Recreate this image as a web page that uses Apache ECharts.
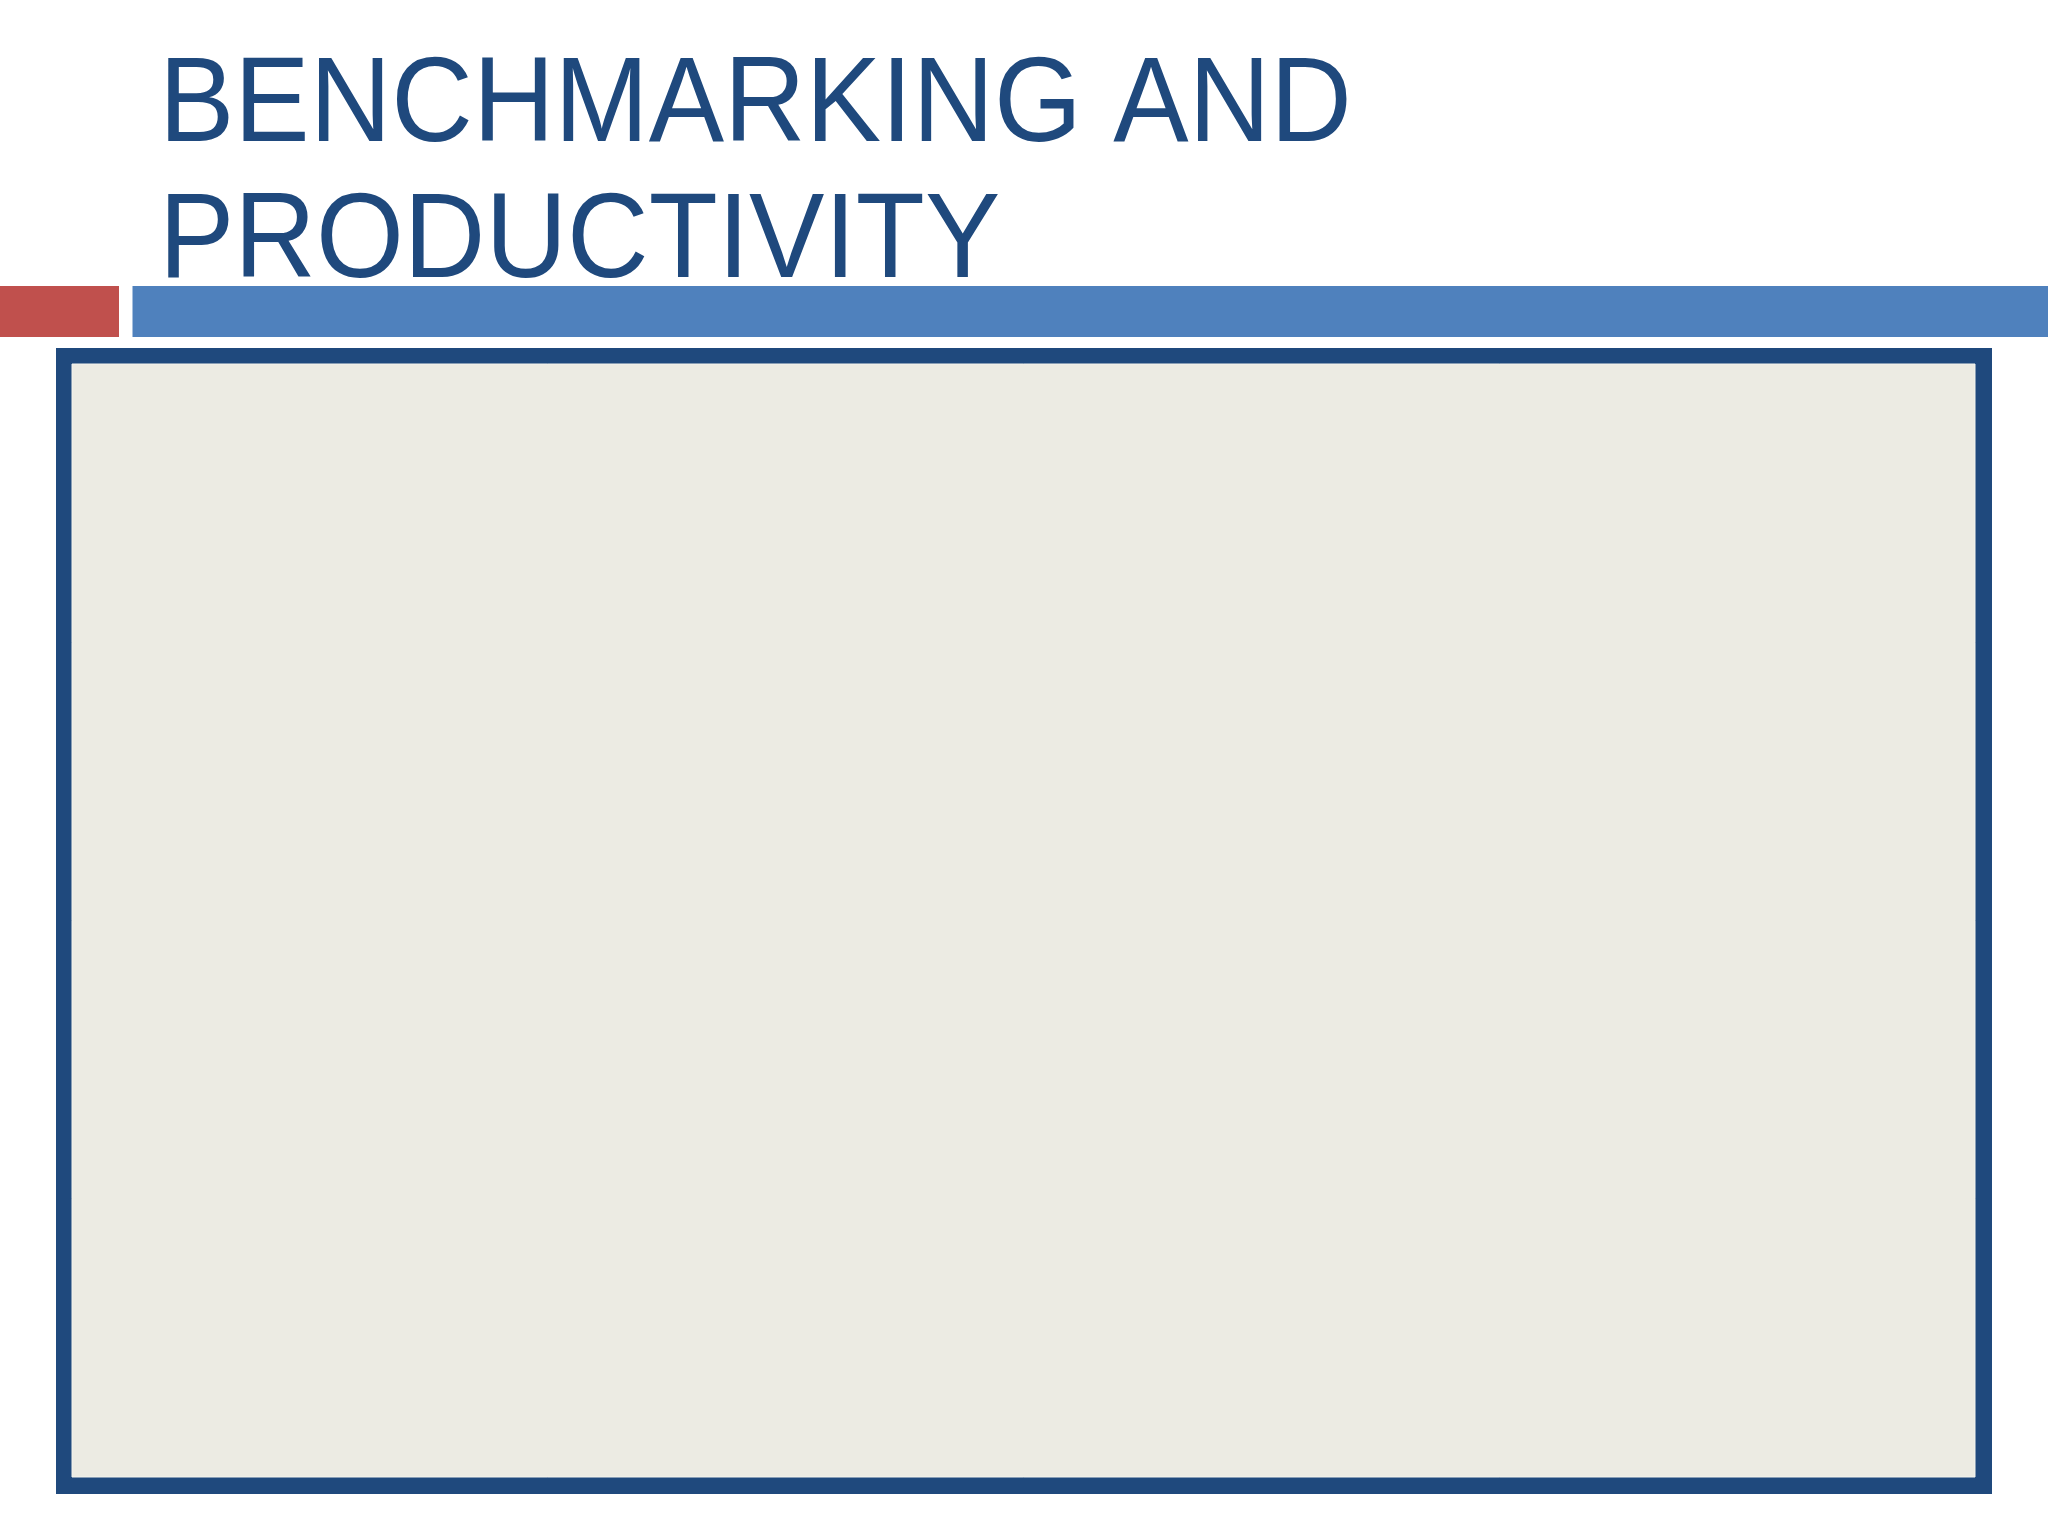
<!DOCTYPE html>
<html>
<head>
<meta charset="utf-8">
<style>
html,body{margin:0;padding:0;background:#ffffff;}
#chart{width:2048px;height:1536px;}
</style>
<script src="https://cdn.jsdelivr.net/npm/echarts@6/dist/echarts.min.js"></script>
</head>
<body>
<div id="chart"></div>
<script>
const titleLines = ['BENCHMARKING AND', 'PRODUCTIVITY'];
const colors = { title: '#1F497D', red: '#C0504D', blue: '#4F81BD', frame: '#1F497D', panel: '#ECEBE3' };

const chart = echarts.init(document.getElementById('chart'), null, { renderer: 'canvas' });
const textEls = titleLines.map((t, i) => ({
  type: 'text',
  x: 159,
  y: 47 + i * 136,
  scaleY: 1.07,
  style: {
    text: t,
    fill: colors.title,
    font: '113px "Liberation Sans", Arial, sans-serif',
    verticalAlign: 'top',
    align: 'left'
  }
}));
chart.setOption({
  backgroundColor: '#ffffff',
  animation: false,
  graphic: [
    ...textEls,
    { type: 'rect', shape: { x: 0, y: 286, width: 119, height: 51 }, style: { fill: colors.red } },
    { type: 'rect', shape: { x: 132.5, y: 286, width: 1916, height: 51 }, style: { fill: colors.blue } },
    { type: 'rect', shape: { x: 56, y: 348, width: 1936, height: 1146 }, style: { fill: colors.frame } },
    { type: 'rect', shape: { x: 72, y: 364, width: 1903, height: 1113 }, style: { fill: colors.panel, stroke: '#f4f4ee', lineWidth: 1 } }
  ]
});
</script>
</body>
</html>
